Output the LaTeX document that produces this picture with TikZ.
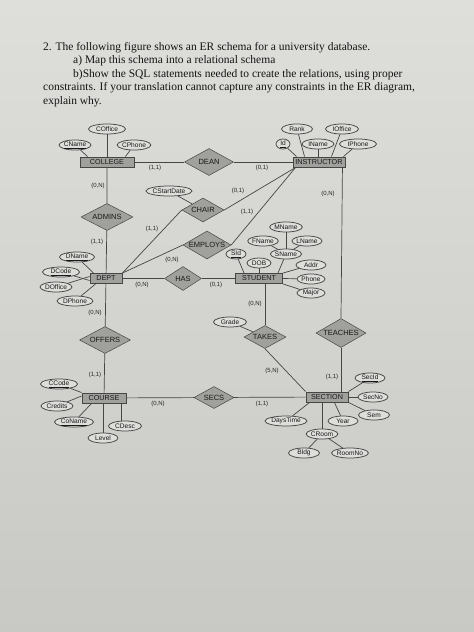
\documentclass[tikz,border=0pt]{standalone}
\usepackage{fontspec}
\setmainfont{Liberation Serif}
\setsansfont{Liberation Sans}
\usetikzlibrary{shapes.geometric, positioning}
\definecolor{paper}{RGB}{222,222,219}
\definecolor{paperdk}{RGB}{200,200,197}
\definecolor{boxgray}{RGB}{160,160,157}
\definecolor{inkgray}{RGB}{70,70,70}

\begin{document}
\begin{tikzpicture}[x=1pt,y=-1pt,
  entity/.style={rectangle, draw=inkgray, fill=boxgray, line width=0.9pt, minimum width=#1, minimum height=10pt, inner sep=0pt, font=\sffamily\fontsize{7.2}{8}\selectfont, text=black!90},
  rel/.style 2 args={diamond, draw=inkgray, fill=boxgray, line width=0.5pt, shape aspect=2, inner sep=0pt, minimum width=#1, minimum height=#2, font=\sffamily\fontsize{7.5}{8}\selectfont, text=black!90},
  attr/.style={ellipse, draw=inkgray, fill=paper, line width=0.75pt, minimum width=#1, minimum height=10pt, inner sep=0pt, font=\sffamily\fontsize{6.6}{7}\selectfont, text=black!90},
  attr/.default=30pt,
  card/.style={inner sep=0pt, font=\sffamily\fontsize{6}{7}\selectfont, text=black!85},
  task/.style={anchor=base west, inner sep=0pt, font=\fontsize{11.5}{13}\selectfont, text=black!92},
  link/.style={draw=inkgray, line width=0.7pt}]
\useasboundingbox (0,0) rectangle (474,632);
\shade[top color=paper, bottom color=paperdk] (0,0) rectangle (474,632);

% Question text
\node[task] (t1) at (43,50) {2. The following figure shows an ER schema for a university database.};
\node[task] (t2) at (73,63.5) {a) Map this schema into a relational schema};
\node[task] (t3) at (73,77) {b)Show the SQL statements needed to create the relations, using proper};
\node[task] (t4) at (43,90.5) {constraints. If your translation cannot capture any constraints in the ER diagram,};
\node[task] (t5) at (43,104) {explain why.};

% Entities
\node[entity=54pt] (college) at (107,162) {COLLEGE};
\node[entity=52pt] (instructor) at (319,162) {INSTRUCTOR};
\node[entity=32pt] (dept) at (106,278.5) {DEPT};
\node[entity=47pt] (student) at (259,278.5) {STUDENT};
\node[entity=44pt] (course) at (104,398) {COURSE};
\node[entity=42pt] (section) at (327,397) {SECTION};

% Relationships
\node[rel={49pt}{27pt}] (dean) at (209,162) {DEAN};
\node[rel={42pt}{24pt}] (chair) at (203,210) {CHAIR};
\node[rel={52pt}{27pt}] (admins) at (107,217) {ADMINS};
\node[rel={48pt}{28pt}] (employs) at (207,245) {EMPLOYS};
\node[rel={37pt}{24pt}] (has) at (183,278.5) {HAS};
\node[rel={51pt}{27pt}] (offers) at (105,340) {OFFERS};
\node[rel={42pt}{23pt}] (takes) at (265,337) {TAKES};
\node[rel={50pt}{29pt}] (teaches) at (341,333) {TEACHES};
\node[rel={40pt}{22pt}] (secs) at (214,397.5) {SECS};

% Attributes
\node[attr=37pt] (coffice) at (107,129) {COffice};
\node[attr=32pt] (cname) at (75,145) {\underline{CName}};
\node[attr=33pt] (cphone) at (134,145) {CPhone};
\node[attr=31pt] (rank) at (297,129) {Rank};
\node[attr=33pt] (ioffice) at (342,129) {IOffice};
\node[attr=14pt] (iid) at (283,144) {\underline{Id}};
\node[attr=32pt] (iname) at (318,144) {IName};
\node[attr=37pt] (iphone) at (358,144) {IPhone};
\node[attr=43pt] (cstartdate) at (169,191) {CStartDate};
\node[attr=32pt] (mname) at (286,227) {MName};
\node[attr=28pt] (fname) at (263,241) {FName};
\node[attr=30pt] (lname) at (307,241) {LName};
\node[attr=30pt] (sname) at (286,254) {SName};
\node[attr=20pt] (sid) at (236,254) {\underline{SId}};
\node[attr=24pt] (dob) at (259,263) {DOB};
\node[attr=30pt] (addr) at (311,265) {Addr};
\node[attr=28pt] (sphone) at (311,279) {Phone};
\node[attr=28pt] (major) at (311,293) {Major};
\node[attr=35pt] (dname) at (77,257) {\underline{DName}};
\node[attr=37pt] (dcode) at (61,272) {\underline{DCode}};
\node[attr=32pt] (doffice) at (56,287) {DOffice};
\node[attr=36pt] (dphone) at (75,301) {DPhone};
\node[attr=33pt] (grade) at (230,322) {Grade};
\node[attr=37pt] (ccode) at (59,384) {\underline{CCode}};
\node[attr=32pt] (credits) at (57,406) {Credits};
\node[attr=39pt] (coname) at (74,422) {\underline{CoName}};
\node[attr=33pt] (cdesc) at (125,426) {CDesc};
\node[attr=30pt] (level) at (103,438) {Level};
\node[attr=30pt] (secid) at (370,378) {\underline{SecId}};
\node[attr=30pt] (secno) at (373,397) {SecNo};
\node[attr=31pt] (sem) at (374,415) {Sem};
\node[attr=42pt] (daystime) at (286,421) {DaysTime};
\node[attr=30pt] (year) at (343,421) {Year};
\node[attr=30pt] (croom) at (322,434) {CRoom};
\node[attr=31pt] (bldg) at (304,453) {Bldg};
\node[attr=36pt] (roomno) at (350,453) {RoomNo};

% Cardinalities
\node[card] (k1) at (155,168) {(1,1)};
\node[card] (k2) at (262,168) {(0,1)};
\node[card] (k3) at (98,186) {(0,N)};
\node[card] (k4) at (238,191) {(0,1)};
\node[card] (k5) at (247,212) {(1,1)};
\node[card] (k6) at (152,229) {(1,1)};
\node[card] (k7) at (97,242) {(1,1)};
\node[card] (k8) at (172,260) {(0,N)};
\node[card] (k9) at (142,285) {(0,N)};
\node[card] (k10) at (216,285) {(0,1)};
\node[card] (k11) at (95,313) {(0,N)};
\node[card] (k12) at (255,304) {(0,N)};
\node[card] (k13) at (328,194) {(0,N)};
\node[card] (k14) at (95,375) {(1,1)};
\node[card] (k15) at (272,371) {(5,N)};
\node[card] (k16) at (332,377) {(1,1)};
\node[card] (k17) at (158,404) {(0,N)};
\node[card] (k18) at (262,404) {(1,1)};

% Connectors
\draw[link] (college) -- (dean) -- (instructor);
\draw[link] (college) -- (admins) -- (dept) -- (offers) -- (course);
\draw[link] (dept) -- (has) -- (student);
\draw[link] (course) -- (secs) -- (section);
\draw[link] (dept.north east) -- (chair.west);
\draw[link] (dept.north east) -- (employs.west);
\draw[link] (chair.east) -- ([xshift=3pt]instructor.south west);
\draw[link] (employs.east) -- ([xshift=3pt]instructor.south west);
\draw[link] ([xshift=-3pt]instructor.south east) -- (teaches.north);
\draw[link] (teaches.south) -- (teaches.south |- section.north);
\draw[link] (takes.north) -- (takes.north |- student.south);
\draw[link] (takes.south) -- (section.north west);
\draw[link] (coffice) -- (college);
\draw[link] (cname) -- ([xshift=8pt]college.north west);
\draw[link] (cphone) -- ([xshift=-9pt]college.north east);
\draw[link] (rank) -- ([xshift=12pt]instructor.north west);
\draw[link] (iid) -- ([xshift=4pt]instructor.north west);
\draw[link] (iname) -- (iname |- instructor.north);
\draw[link] (ioffice) -- ([xshift=-14pt]instructor.north east);
\draw[link] (iphone) -- ([xshift=-2pt]instructor.north east);
\draw[link] (cstartdate) -- (chair);
\draw[link] (mname) -- (sname);
\draw[link] (fname) -- (sname);
\draw[link] (lname) -- (sname);
\draw[link] (sname) -- ([xshift=-5pt]student.north east);
\draw[link] (sid) -- ([xshift=9pt]student.north west);
\draw[link] (dob) -- (dob |- student.north);
\draw[link] (addr) -- (student.north east);
\draw[link] (sphone) -- (student.east);
\draw[link] (major) -- (student.south east);
\draw[link] (dname) -- ([xshift=4pt]dept.north west);
\draw[link] (dcode) -- ([yshift=-2pt]dept.west);
\draw[link] (doffice) -- ([yshift=2pt]dept.west);
\draw[link] (dphone) -- ([xshift=6pt]dept.south west);
\draw[link] (grade) -- (takes);
\draw[link] (ccode) -- (course.north west);
\draw[link] (credits) -- ([yshift=2pt]course.west);
\draw[link] (coname) -- ([xshift=10pt]course.south west);
\draw[link] ([xshift=-4pt]cdesc.north) -- ([xshift=-4pt]cdesc.north |- course.south);
\draw[link] (level) -- (level |- course.south);
\draw[link] (secid) -- (section.north east);
\draw[link] (secno) -- (section.east);
\draw[link] (sem) -- (section.south east);
\draw[link] (daystime) -- ([xshift=4pt]section.south west);
\draw[link] (year) -- ([xshift=-14pt]section.south east);
\draw[link] (croom) -- (croom |- section.south);
\draw[link] (bldg) -- (croom);
\draw[link] (roomno) -- (croom);
\end{tikzpicture}
\end{document}
